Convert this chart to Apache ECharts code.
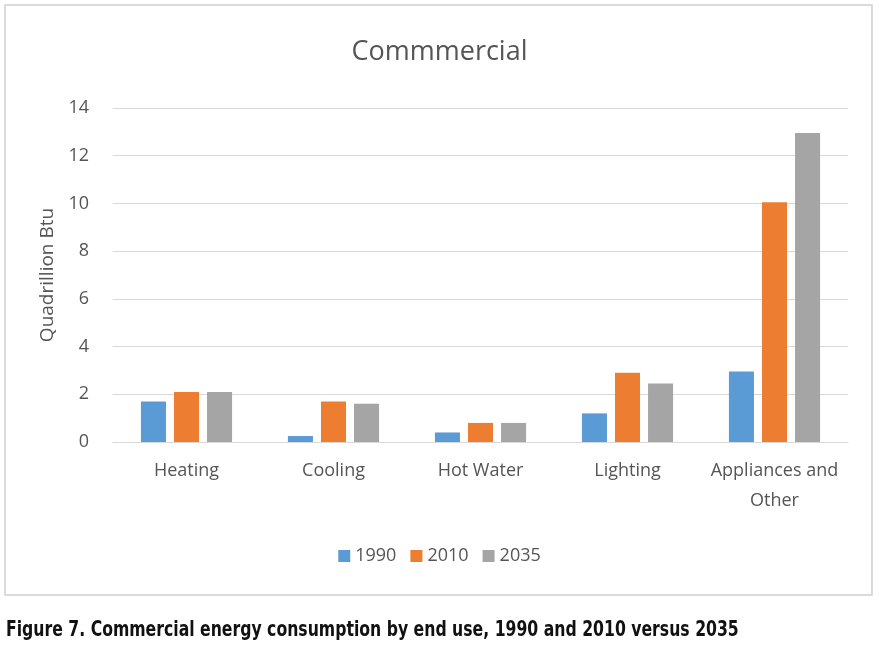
<!DOCTYPE html>
<html><head><meta charset="utf-8">
<script src="https://cdn.jsdelivr.net/npm/echarts@6/dist/echarts.min.js"></script>
<style>body{margin:0;background:#fff}#c{width:879px;height:654px}</style>
</head><body><div id="c"></div>
<script>
const categories=['Heating','Cooling','Hot Water','Lighting','Appliances and\nOther'];
const s1990=[1.7,0.25,0.4,1.2,2.95];
const s2010=[2.1,1.7,0.8,2.9,10.05];
const s2035=[2.1,1.6,0.8,2.45,12.95];
const yTicks=[0,2,4,6,8,10,12,14];
const chart=echarts.init(document.getElementById('c'));
const F='"Open Sans", Lato, sans-serif';
chart.setOption({
  animation:false,
  graphic:[
    {type:'rect',shape:{x:5,y:5,width:867,height:590},style:{fill:'none',stroke:'#d0d0d0',lineWidth:1.5}},
    {type:'text',x:6,y:620,scaleX:0.83,style:{text:'Figure 7. Commercial energy consumption by end use, 1990 and 2010 versus 2035',font:'bold 21px "DejaVu Sans Condensed", "Liberation Sans Narrow", sans-serif',fill:'#111'}}
  ],
  title:{text:'Commmercial',left:'center',top:34,textStyle:{fontFamily:F,fontWeight:'normal',fontSize:27,color:'#555'}},
  legend:{bottom:84,itemWidth:12,itemHeight:12,itemGap:14,icon:'rect',textStyle:{fontFamily:F,fontSize:18,color:'#555'},data:['1990','2010','2035']},
  grid:{left:113,right:31,top:108,bottom:212},
  xAxis:{type:'category',data:categories,axisTick:{show:false},axisLine:{lineStyle:{color:'#d9d9d9'}},axisLabel:{interval:0,fontFamily:F,fontSize:18,color:'#555',lineHeight:30,margin:14}},
  yAxis:{type:'value',min:0,max:14,interval:2,name:'Quadrillion Btu',nameLocation:'middle',nameGap:56,nameTextStyle:{fontFamily:F,fontSize:19,color:'#555'},
    axisLabel:{fontFamily:F,fontSize:18,color:'#555',margin:24,formatter:v=>yTicks.includes(v)?String(v):''},splitLine:{lineStyle:{color:'#d9d9d9'}}},
  series:[
    {name:'1990',type:'bar',data:s1990,itemStyle:{color:'#5b9bd5'},barGap:'32%',barCategoryGap:'38%'},
    {name:'2010',type:'bar',data:s2010,itemStyle:{color:'#ed7d31'}},
    {name:'2035',type:'bar',data:s2035,itemStyle:{color:'#a5a5a5'}}
  ]
});
</script></body></html>
